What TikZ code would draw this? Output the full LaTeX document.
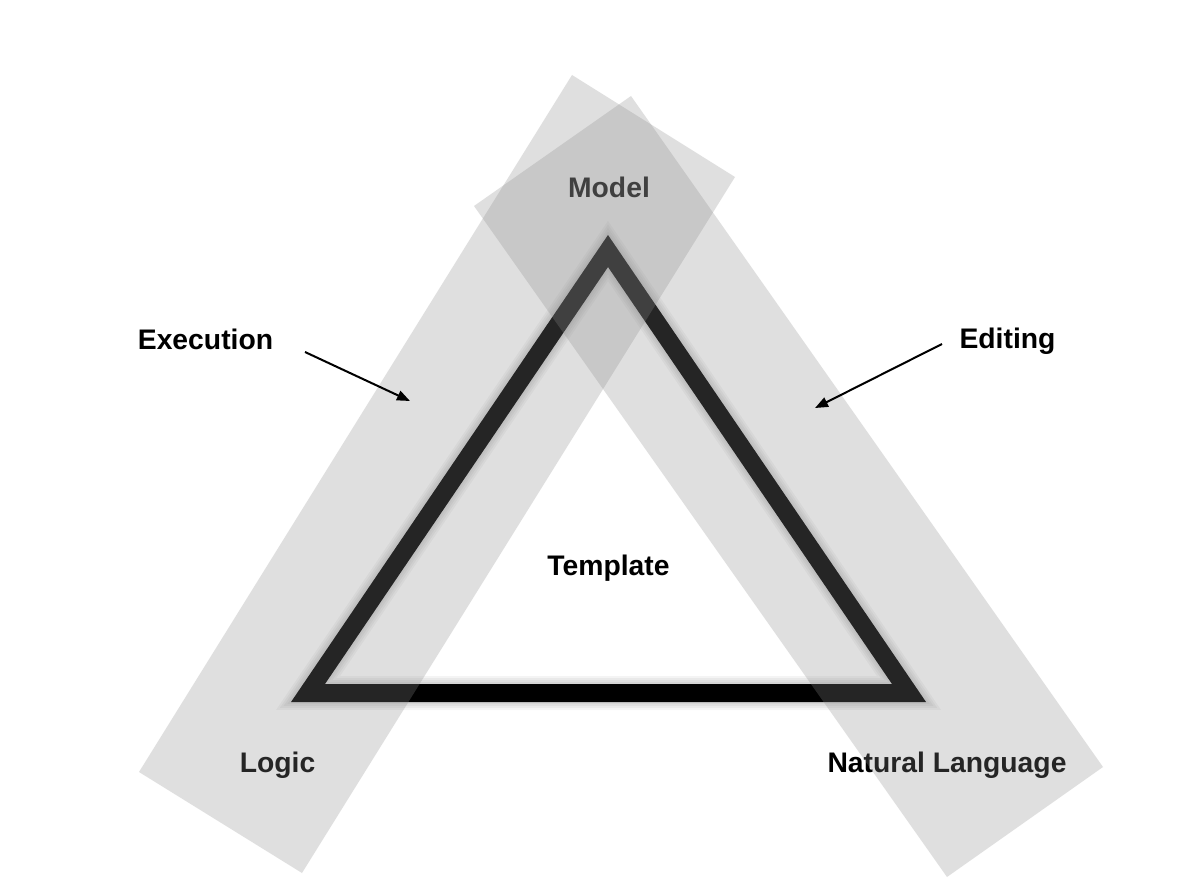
\documentclass[tikz,border=0pt]{standalone}
\usepackage{fontspec}
\setmainfont{Liberation Sans}
\usetikzlibrary{arrows.meta}
\begin{document}
\begin{tikzpicture}[x=1pt,y=-1pt,
  lbl/.style={font=\fontsize{28.3}{34}\selectfont\bfseries, inner sep=0pt, anchor=base, text=black},
  band/.style={fill={rgb,255:red,140;green,140;blue,140}, fill opacity=0.27},
  tri/.style={draw=black, line width=18pt, line join=miter, miter limit=10},
  shad/.style={draw=black, line join=miter, miter limit=10, draw opacity=0.045},
  arr/.style={draw=black, line width=2pt, -{Triangle[length=13pt,width=10pt]}}]
\useasboundingbox (0,0) rectangle (1200,896);
\fill[white] (0,0) rectangle (1200,896);
% labels
\node[lbl] (model) at (609,198) {Model};
\node[lbl] (exec) at (205.5,349) {Execution};
\node[lbl] (edit) at (1007.5,348) {Editing};
\node[lbl] (tmpl) at (608.5,575) {Template};
\node[lbl] (logic) at (277.5,772) {Logic};
\node[lbl] (natlang) at (947,772) {Natural Language};
% triangle
\coordinate (A) at (608,251);
\coordinate (B) at (308,693);
\coordinate (C) at (909,693);
\foreach \w in {34,30,26,22} {
  \draw[shad, line width=\w pt, shift={(0,7)}] (A) -- (B) -- (C) -- cycle;
}
\draw[tri] (A) -- (B) -- (C) -- cycle;
% bands
\fill[band] (572,75) -- (735,177) -- (302,873) -- (139,772) -- cycle;
\fill[band] (631,96) -- (1103,767) -- (947,877) -- (474,206) -- cycle;
% arrows
\coordinate (exS) at (305,352);
\coordinate (exT) at (410,401);
\coordinate (edS) at (942,344);
\coordinate (edT) at (815,408);
\draw[arr] (exS) -- (exT);
\draw[arr] (edS) -- (edT);
\end{tikzpicture}
\end{document}
